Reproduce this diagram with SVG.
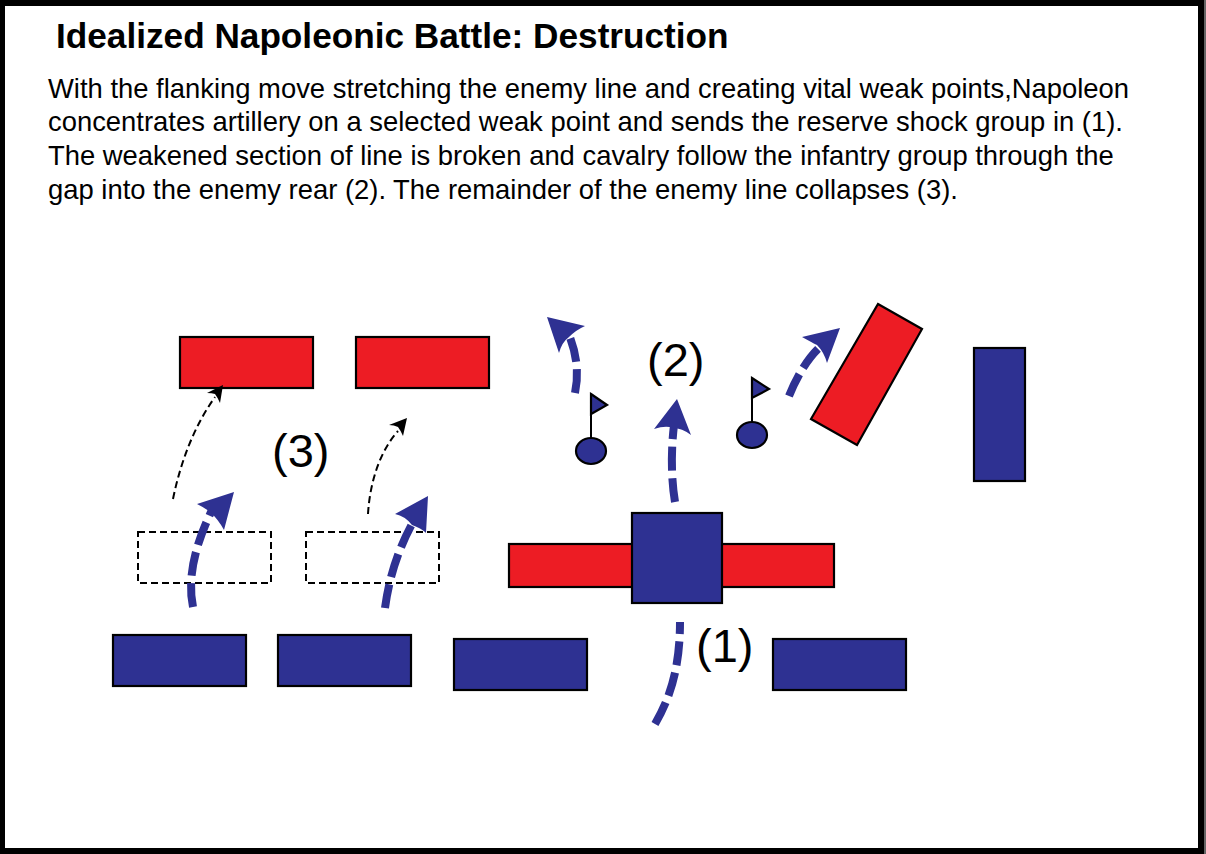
<svg xmlns="http://www.w3.org/2000/svg" width="1206" height="854" viewBox="0 0 1206 854">
<style>
.t{font-family:"Liberation Sans",Arial,sans-serif;fill:#000}
.b{font-size:27.4px}
.l{font-size:47px}
.red{fill:#ed1c24;stroke:#000;stroke-width:2.2}
.blue{fill:#2e3192;stroke:#000;stroke-width:2.2}
.ghost{fill:#fff;stroke:#000;stroke-width:2;stroke-dasharray:7 4}
.thick{fill:none;stroke:#2e3192;stroke-width:8;stroke-dasharray:24 7.500}
.thin{fill:none;stroke:#000;stroke-width:2;stroke-dasharray:7 4}
.head{fill:#2e3192}
.pole{fill:none;stroke:#000;stroke-width:2}
</style>
<rect width="1206" height="854" fill="#666"/>
<rect x="2" y="3" width="1199" height="848" fill="#fff" stroke="#000" stroke-width="6"/>
<text class="t" x="56" y="48" font-size="35.200" font-weight="bold">Idealized Napoleonic Battle: Destruction</text>
<text class="t b" x="48" y="98">With the flanking move stretching the enemy line and creating vital weak points,Napoleon</text>
<text class="t b" x="48" y="131">concentrates artillery on a selected weak point and sends the reserve shock group in (1).</text>
<text class="t b" x="48" y="165">The weakened section of line is broken and cavalry follow the infantry group through the</text>
<text class="t b" x="48" y="199">gap into the enemy rear (2). The remainder of the enemy line collapses (3).</text>

<g id="enemy-1"><rect class="red" x="180" y="337" width="133" height="51"/></g>
<g id="enemy-2"><rect class="red" x="356" y="337" width="133" height="51"/></g>
<g id="enemy-3"><polygon class="red" points="878,304 922,329 857,445 811,419"/></g>
<g id="enemy-4"><rect class="red" x="509" y="544" width="325" height="43"/></g>
<g id="french-right"><rect class="blue" x="974" y="348" width="51" height="133"/></g>
<g id="shock-group"><rect class="blue" x="632" y="513" width="90" height="90"/></g>
<g id="ghost-1"><rect class="ghost" x="138" y="532" width="133" height="51"/></g>
<g id="ghost-2"><rect class="ghost" x="306" y="532" width="133" height="51"/></g>
<g id="french-1"><rect class="blue" x="113" y="635" width="133" height="51"/></g>
<g id="french-2"><rect class="blue" x="278" y="635" width="133" height="51"/></g>
<g id="french-3"><rect class="blue" x="454" y="639" width="133" height="51"/></g>
<g id="french-4"><rect class="blue" x="773" y="639" width="133" height="51"/></g>
<g id="flag-1"><path class="pole" d="M591 438V394"/><path class="blue" d="M591 394L607 405L591 414Z"/><ellipse class="blue" cx="591" cy="451" rx="15" ry="13"/></g>
<g id="flag-2"><path class="pole" d="M752 422V378"/><path class="blue" d="M752 378L769 389L752 398Z"/><ellipse class="blue" cx="752" cy="435" rx="15" ry="13"/></g>

<g id="connectors">
<path class="thick" d="M655 724C669 700 680 670 680 622"/>
<path class="thick" d="M675 502C671 478 671 450 674 425"/>
<path class="head" d="M677 399L654 429Q666 425 673 428Q682 428 691 435Z"/>
<path class="thick" d="M575 393C579 374 577 355 569 335"/>
<path class="head" d="M547 317L559 353Q562 342 569 337Q576 330 585 326Z"/>
<path class="thick" d="M789 396C797 376 808 358 820 347"/>
<path class="head" d="M840 328L802 337Q811 342 817 345Q824 352 827 363Z"/>
<path class="thick" d="M193 607C187 578 195 545 212 510"/>
<path class="head" d="M234 492L197 504Q205 508 210 512Q218 519 224 530Z"/>
<path class="thick" d="M385 608C389 578 398 550 412 524"/>
<path class="head" d="M428 496L395 514Q405 516 412 525Q421 528 426 533Z"/>
<path class="thin" d="M173 499C181 460 195 425 215 397"/>
<path d="M223 385L207 393Q212 393 215 394Q218 398 220 403Z"/>
<path class="thin" d="M368 514C370 480 381 450 398 431"/>
<path d="M407 418L389 425Q394 425 398 427Q401 431 403 436Z"/>
</g>
<text class="t l" x="647" y="376">(2)</text>
<text class="t l" x="272" y="467">(3)</text>
<text class="t l" x="696" y="662">(1)</text>
</svg>
